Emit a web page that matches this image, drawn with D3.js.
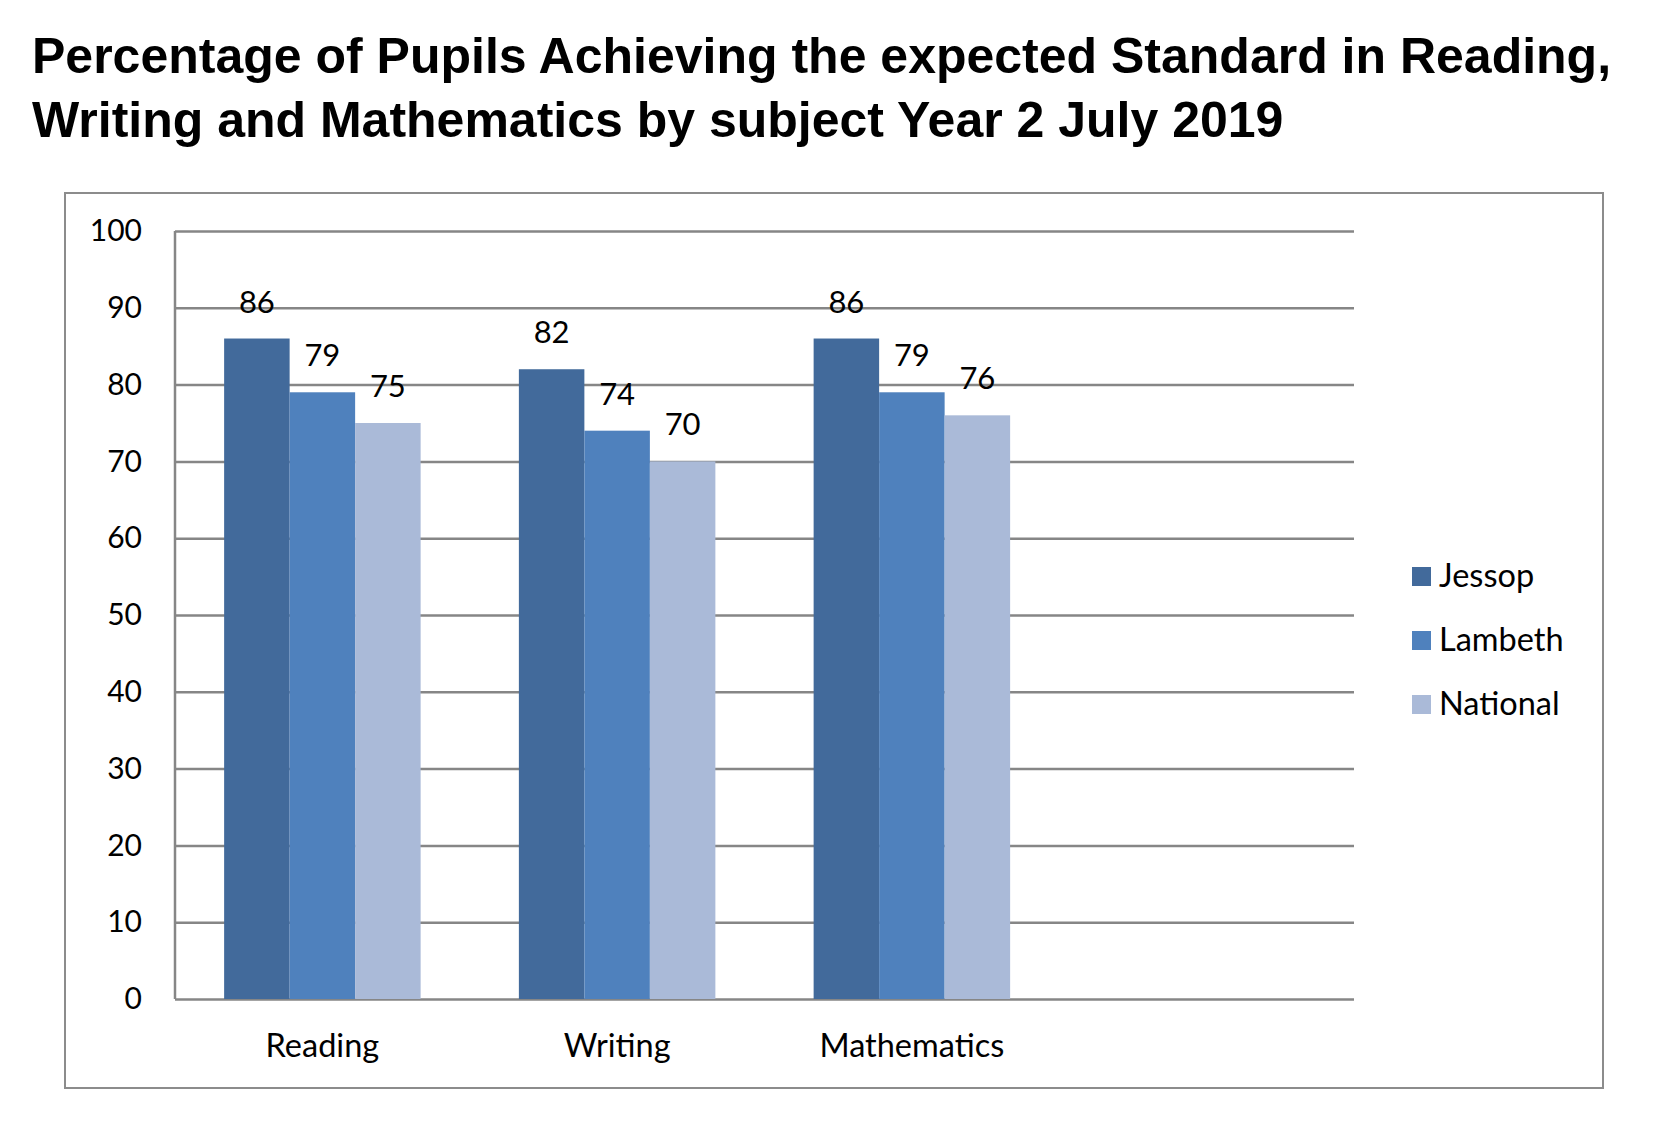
<!DOCTYPE html>
<html>
<head>
<meta charset="utf-8">
<script src="https://cdn.jsdelivr.net/npm/d3@7"></script>
<style>
	body { margin: 0; background: #fff; }
	.title { font-family: "Liberation Sans", Arial, sans-serif; font-weight: bold; fill: #000; }
	.lbl { font-family: Lato, "Open Sans", sans-serif; fill: #000; }
</style>
</head>
<body>
<div id="chart-area"></div>
<script>

// Chart values
let categories = ["Reading", "Writing", "Mathematics", ""];   // last slot is an empty category, as in the source chart
let seriesNames = ["Jessop", "Lambeth", "National"];
let jessop = [86, 82, 86];
let lambeth = [79, 74, 79];
let national = [75, 70, 76];
let yTicks = [0, 10, 20, 30, 40, 50, 60, 70, 80, 90, 100];
let colors = ["#426a9b", "#4f81bd", "#aabad8"];
let titleLines = [
	"Percentage of Pupils Achieving the expected Standard in Reading,",
	"Writing and Mathematics by subject Year 2 July 2019"
];

class BarVis {

	constructor(_parentElement, _series) {
		this.parentElement = _parentElement;
		this.series = _series;
		this.initVis();
	}

	initVis() {
		let vis = this;

		vis.svg = d3.select("#" + vis.parentElement).append("svg")
			.attr("width", 1676)
			.attr("height", 1132);

		vis.svg.append("rect")
			.attr("width", 1676).attr("height", 1132)
			.attr("fill", "#fff");

		// Title
		vis.svg.selectAll(".title")
			.data(titleLines)
			.enter().append("text")
			.attr("class", "title")
			.attr("x", 32)
			.attr("y", (d, i) => 73 + i * 64)
			.attr("font-size", 50)
			.text(d => d);

		// Chart frame
		vis.svg.append("rect")
			.attr("x", 65).attr("y", 193)
			.attr("width", 1538).attr("height", 895)
			.attr("fill", "none")
			.attr("stroke", "#8c8c8c")
			.attr("stroke-width", 2);

		vis.margin = { left: 175, top: 231 };
		vis.width = 1179;
		vis.height = 768;

		vis.chartArea = vis.svg.append("g")
			.attr("transform", "translate(" + vis.margin.left + "," + vis.margin.top + ")");

		// Scales
		vis.x = d3.scaleBand()
			.domain(categories)
			.range([0, vis.width])
			.paddingInner(0)
			.paddingOuter(0);

		vis.xSub = d3.scaleBand()
			.domain(seriesNames)
			.range([0, vis.x.bandwidth()])
			.paddingOuter(0.75);

		vis.y = d3.scaleLinear()
			.domain([0, 100])
			.range([vis.height, 0]);

		vis.updateVis();
	}

	updateVis() {
		let vis = this;

		// Gridlines
		vis.chartArea.append("g")
			.attr("class", "grid")
			.call(d3.axisLeft(vis.y).tickValues(yTicks).tickSize(-vis.width).tickFormat(""))
			.call(g => g.select(".domain").remove())
			.selectAll("line")
			.attr("stroke", "#868686")
			.attr("stroke-width", 2.5);

		// Y axis line
		vis.chartArea.append("line")
			.attr("x1", 0).attr("x2", 0)
			.attr("y1", 0).attr("y2", vis.height)
			.attr("stroke", "#868686")
			.attr("stroke-width", 2.5);

		// Y tick labels
		vis.chartArea.append("g")
			.call(d3.axisLeft(vis.y).tickValues(yTicks).tickSize(0).tickPadding(33))
			.call(g => g.select(".domain").remove())
			.selectAll("text")
			.attr("class", "lbl")
			.attr("font-size", 30)
			.attr("font-family", "Lato, 'Open Sans', sans-serif")
			.attr("fill", "#000");

		// Bars
		let groups = vis.chartArea.selectAll(".cat")
			.data(categories.slice(0, 3))
			.enter().append("g")
			.attr("class", "cat")
			.attr("transform", d => "translate(" + vis.x(d) + ",0)");

		groups.selectAll("rect")
			.data((d, i) => vis.series.map((s, j) => ({ name: seriesNames[j], value: s[i], color: colors[j] })))
			.enter().append("rect")
			.attr("x", d => vis.xSub(d.name))
			.attr("width", vis.xSub.bandwidth())
			.attr("y", d => vis.y(d.value))
			.attr("height", d => vis.height - vis.y(d.value))
			.attr("fill", d => d.color);

		// Data labels
		groups.selectAll(".val")
			.data((d, i) => vis.series.map((s, j) => ({ name: seriesNames[j], value: s[i] })))
			.enter().append("text")
			.attr("class", "lbl val")
			.attr("x", d => vis.xSub(d.name) + vis.xSub.bandwidth() / 2)
			.attr("y", d => vis.y(d.value) - 26)
			.attr("text-anchor", "middle")
			.attr("font-size", 31)
			.text(d => d.value);

		// Category labels
		vis.chartArea.selectAll(".cat-label")
			.data(categories)
			.enter().append("text")
			.attr("class", "lbl cat-label")
			.attr("x", d => vis.x(d) + vis.x.bandwidth() / 2)
			.attr("y", vis.height + 58)
			.attr("text-anchor", "middle")
			.attr("font-size", 32.5)
			.text(d => d);

		// Legend
		let legend = vis.svg.selectAll(".legend")
			.data(seriesNames)
			.enter().append("g")
			.attr("class", "legend")
			.attr("transform", (d, i) => "translate(1412," + (567 + i * 64) + ")");

		legend.append("rect")
			.attr("width", 19).attr("height", 19)
			.attr("fill", (d, i) => colors[i]);

		legend.append("text")
			.attr("class", "lbl")
			.attr("x", 27)
			.attr("y", 20)
			.attr("font-size", 32.5)
			.text(d => d);
	}
}

let barVis = new BarVis("chart-area", [jessop, lambeth, national]);

</script>
</body>
</html>
